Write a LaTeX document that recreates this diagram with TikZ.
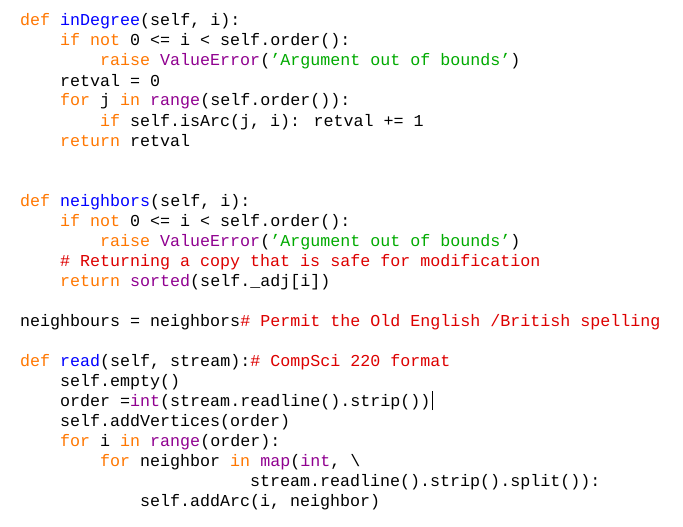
\documentclass[tikz,border=0pt]{standalone}
\usepackage{fontspec}
\newfontfamily\codefont{Liberation Mono}
\definecolor{ckw}{HTML}{FF7700}
\definecolor{cfn}{HTML}{0000FF}
\definecolor{cbi}{HTML}{900090}
\definecolor{cst}{HTML}{00AA00}
\definecolor{ccm}{HTML}{DD0000}
\newcommand{\Kw}[1]{\textcolor{ckw}{#1}}
\newcommand{\Fn}[1]{\textcolor{cfn}{#1}}
\newcommand{\Bi}[1]{\textcolor{cbi}{#1}}
\newcommand{\St}[1]{\textcolor{cst}{#1}}
\newcommand{\Cm}[1]{\textcolor{ccm}{#1}}
\begin{document}
\begin{tikzpicture}[x=1pt,y=-1pt,
  codeline/.style={anchor=base west,inner sep=0pt,font=\codefont\fontsize{16.67}{20}\selectfont}]
\useasboundingbox (0,0) rectangle (683,527);
\fill[white] (0,0) rectangle (683,527);
\def\L#1#2#3{\node[codeline] (#1) at (#2) {#3};}
\L{l1}{20,26}{\Kw{def} \Fn{inDegree}(self, i):}
\L{l2}{60,46}{\Kw{if} \Kw{not} 0 <= i < self.order():}
\L{l3}{100,66}{\Kw{raise} \Bi{ValueError}(\St{’Argument out of bounds’})}
\L{l4}{60,86}{retval = 0}
\L{l5}{60,106}{\Kw{for} j \Kw{in} \Bi{range}(self.order()):}
\L{l6}{100,126}{\Kw{if} self.isArc(j, i): retval += 1}
\L{l7}{60,146}{\Kw{return} retval}
\L{l8}{20,206}{\Kw{def} \Fn{neighbors}(self, i):}
\L{l9}{60,226}{\Kw{if} \Kw{not} 0 <= i < self.order():}
\L{l10}{100,246}{\Kw{raise} \Bi{ValueError}(\St{’Argument out of bounds’})}
\L{l11}{60,266}{\Cm{\# Returning a copy that is safe for modification}}
\L{l12}{60,286}{\Kw{return} \Bi{sorted}(self.\_adj[i])}
\L{l13}{20,326}{neighbours = neighbors\Cm{\# Permit the Old English /British spelling}}
\L{l14}{20,366}{\Kw{def} \Fn{read}(self, stream):\Cm{\# CompSci 220 format}}
\L{l15}{60,386}{self.empty()}
\L{l16}{60,406}{order =\Bi{int}(stream.readline().strip())}
\L{l17}{60,426}{self.addVertices(order)}
\L{l18}{60,446}{\Kw{for} i \Kw{in} \Bi{range}(order):}
\L{l19}{100,466}{\Kw{for} neighbor \Kw{in} \Bi{map}(\Bi{int}, \textbackslash}
\L{l20}{250,486}{stream.readline().strip().split()):}
\L{l21}{140,506}{self.addArc(i, neighbor)}
\draw[line width=1.5pt] ([xshift=2pt]l16.base east) ++(0,4) -- ++(0,-19);
\end{tikzpicture}
\end{document}
